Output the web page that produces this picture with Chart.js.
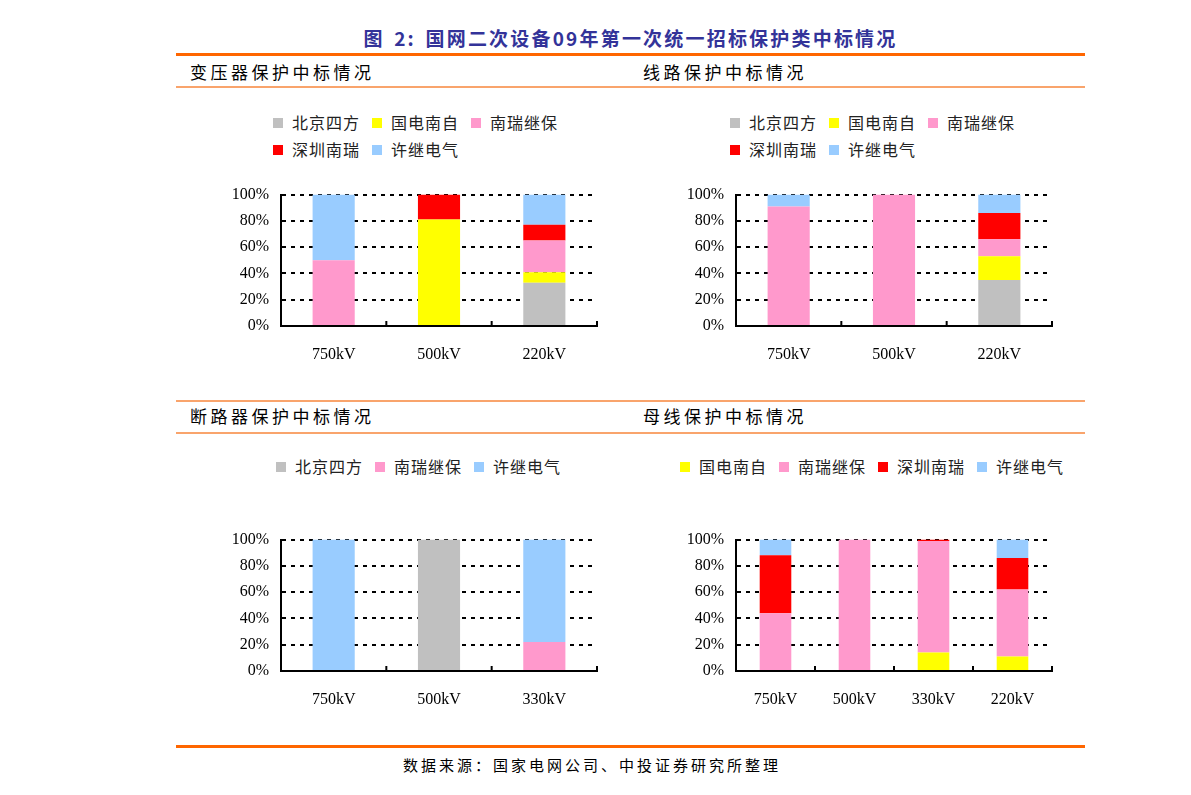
<!DOCTYPE html>
<html>
<head>
<meta charset="utf-8">
<script src="https://cdn.jsdelivr.net/npm/chart.js@4.4.0/dist/chart.umd.min.js"></script>
<style>
body { margin: 0; background: #fff; }
#page { position: relative; width: 1191px; height: 795px; overflow: hidden; font-family: "Noto Sans CJK SC", sans-serif; }
.rule { position: absolute; left: 176px; width: 909px; }
.thick { height: 3px; background: #ff6600; }
.thin { height: 2px; background: #f9a46c; }
.title { position: absolute; left: 176px; width: 909px; top: 26px; text-align: center; font-size: 19px; font-weight: bold; color: #333399; letter-spacing: 2.2px; line-height: 24px; word-spacing: 3px; }
.head { position: absolute; font-size: 17px; letter-spacing: 3.5px; color: #000; line-height: 20px; }
.foot { position: absolute; left: 403px; top: 755px; font-size: 15px; letter-spacing: 3px; color: #000; line-height: 20px; }
.legend { position: absolute; font-size: 16px; letter-spacing: 1px; color: #222; }
.legend .item { display: inline-block; width: 99px; height: 27px; line-height: 27px; white-space: nowrap; }
.legend i { display: inline-block; width: 10px; height: 10px; margin-right: 9px; vertical-align: middle; position: relative; top: -2px; }
canvas { position: absolute; }
</style>
</head>
<body>
<div id="page">
  <div class="title">图 2: 国网二次设备09年第一次统一招标保护类中标情况</div>
  <div class="rule thick" style="top:53px"></div>
  <div class="head" style="left:190px;top:62px">变压器保护中标情况</div>
  <div class="head" style="left:643px;top:62px">线路保护中标情况</div>
  <div class="rule thin" style="top:86px"></div>

  <div class="legend" id="lg1" style="left:273px;top:109px;width:300px"></div>
  <div class="legend" id="lg2" style="left:730px;top:109px;width:300px"></div>
  <canvas id="c1" width="410" height="202" style="left:200px;top:173px"></canvas>
  <canvas id="c2" width="410" height="202" style="left:655px;top:173px"></canvas>

  <div class="rule thin" style="top:400px"></div>
  <div class="head" style="left:190px;top:406px">断路器保护中标情况</div>
  <div class="head" style="left:643px;top:406px">母线保护中标情况</div>
  <div class="rule thin" style="top:432px"></div>

  <div class="legend" id="lg3" style="left:276px;top:453px;width:320px"></div>
  <div class="legend" id="lg4" style="left:680px;top:453px;width:420px"></div>
  <canvas id="c3" width="410" height="202" style="left:200px;top:518px"></canvas>
  <canvas id="c4" width="410" height="202" style="left:655px;top:518px"></canvas>

  <div class="rule thick" style="top:745px"></div>
  <div class="foot">数据来源：国家电网公司、中投证券研究所整理</div>
</div>

<script>
// company colours
const companyColors = {
    "北京四方": "#c0c0c0",
    "国电南自": "#ffff00",
    "南瑞继保": "#ff99cc",
    "深圳南瑞": "#ff0000",
    "许继电气": "#99ccff"
};

// 变压器保护 (%)
const transLabels = ["750kV", "500kV", "220kV"];
const transNames = ["北京四方", "国电南自", "南瑞继保", "深圳南瑞", "许继电气"];
const transSifang = [0, 0, 33];
const transNanzi = [0, 81, 8];
const transNari = [50, 0, 24];
const transSzNari = [0, 19, 12];
const transXuji = [50, 0, 23];

// 线路保护 (%)
const lineLabels = ["750kV", "500kV", "220kV"];
const lineNames = ["北京四方", "国电南自", "南瑞继保", "深圳南瑞", "许继电气"];
const lineSifang = [0, 0, 35];
const lineNanzi = [0, 0, 18];
const lineNari = [91, 100, 13];
const lineSzNari = [0, 0, 20];
const lineXuji = [9, 0, 14];

// 断路器保护 (%)
const brkLabels = ["750kV", "500kV", "330kV"];
const brkNames = ["北京四方", "南瑞继保", "许继电气"];
const brkSifang = [0, 100, 0];
const brkNari = [0, 0, 22];
const brkXuji = [100, 0, 78];

// 母线保护 (%)
const busLabels = ["750kV", "500kV", "330kV", "220kV"];
const busNames = ["国电南自", "南瑞继保", "深圳南瑞", "许继电气"];
const busNanzi = [0, 0, 14, 11];
const busNari = [44, 100, 85, 51];
const busSzNari = [44, 0, 1, 24];
const busXuji = [12, 0, 0, 14];

const tickFont = { family: "'Liberation Serif', 'Times New Roman', serif", size: 16 };

// small upward ticks between categories on the x axis
const categoryTicks = {
    id: "categoryTicks",
    afterDraw(chart) {
        const xs = chart.scales.x;
        const ctx = chart.ctx;
        const n = chart.data.labels.length;
        ctx.save();
        ctx.strokeStyle = "#000";
        ctx.lineWidth = 2;
        for (let i = 1; i <= n; i++) {
            const px = xs.getPixelForValue(i - 0.5);
            ctx.beginPath();
            ctx.moveTo(px, xs.top);
            ctx.lineTo(px, xs.top - 5);
            ctx.stroke();
        }
        ctx.restore();
    }
};

function buildLegend(id, names) {
    const el = document.getElementById(id);
    names.forEach(n => {
        const item = document.createElement("span");
        item.className = "item";
        const sw = document.createElement("i");
        sw.style.background = companyColors[n];
        item.appendChild(sw);
        item.appendChild(document.createTextNode(n));
        el.appendChild(item);
    });
}

function renderStack(canvasId, labels, names, series) {
    const ctx = document.getElementById(canvasId).getContext("2d");
    return new Chart(ctx, {
        type: "bar",
        data: {
            labels: labels,
            datasets: names.map((n, i) => ({
                label: n,
                data: series[i],
                backgroundColor: companyColors[n],
                borderWidth: 0,
                categoryPercentage: 0.4,
                barPercentage: 1
            }))
        },
        options: {
            responsive: false,
            animation: false,
            layout: { padding: { top: 0, right: 13, bottom: 0, left: 0 } },
            plugins: {
                legend: { display: false },
                tooltip: { enabled: false }
            },
            scales: {
                x: {
                    stacked: true,
                    grid: { display: true, drawOnChartArea: false, drawTicks: false },
                    border: { color: "#000", width: 2 },
                    ticks: { font: tickFont, color: "#000", padding: 19 },
                    afterFit(s) { s.height = 49; }
                },
                y: {
                    stacked: true,
                    min: 0,
                    max: 100,
                    grid: { color: "#000", lineWidth: 2, drawTicks: false },
                    border: { color: "#000", width: 2, dash: [4, 5] },
                    ticks: {
                        stepSize: 20,
                        font: tickFont,
                        color: "#000",
                        padding: 12,
                        callback: v => v + "%"
                    },
                    afterFit(s) { s.width = 81; }
                }
            }
        },
        plugins: [categoryTicks]
    });
}

buildLegend("lg1", transNames);
buildLegend("lg2", lineNames);
buildLegend("lg3", brkNames);
buildLegend("lg4", busNames);

renderStack("c1", transLabels, transNames, [transSifang, transNanzi, transNari, transSzNari, transXuji]);
renderStack("c2", lineLabels, lineNames, [lineSifang, lineNanzi, lineNari, lineSzNari, lineXuji]);
renderStack("c3", brkLabels, brkNames, [brkSifang, brkNari, brkXuji]);
renderStack("c4", busLabels, busNames, [busNanzi, busNari, busSzNari, busXuji]);
</script>
</body>
</html>
